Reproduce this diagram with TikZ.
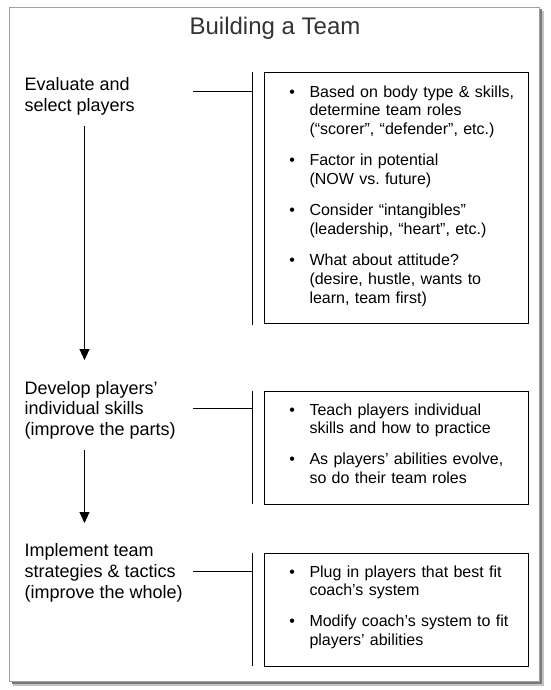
\documentclass[tikz,border=0pt]{standalone}
\usepackage{fontspec}
\setmainfont{Liberation Sans}
\usetikzlibrary{arrows.meta}
\definecolor{titlegray}{HTML}{333333}
\definecolor{framegray}{HTML}{A0A0A0}
\definecolor{shadowgray}{HTML}{7A7A7A}
\newcommand{\itembullet}{\leavevmode\llap{\textbullet\hspace{14.5pt}}}

\begin{document}
\begin{tikzpicture}[x=1pt, y=-1pt, font=\fontsize{16}{18.7}\selectfont]
		\tikzstyle{stage} = [anchor=base west, align=left, inner sep=0pt, font=\fontsize{18}{20.7}\selectfont]
		
		\tikzstyle{list} = [anchor=base west, text width=215pt, align=left, inner sep=0pt]
		
		\tikzstyle{box} = [rectangle, draw=black, line width=0.9pt, minimum width=264pt, inner sep=0pt]
		
		\tikzstyle{link} = [line width=0.9pt]
		\tikzstyle{arrow} = [line width=0.9pt, -{Triangle[width=10pt,length=11pt]}]
		
		\useasboundingbox (0,0) rectangle (550,690);
		
		% Frame and its shadow
		\fill[shadowgray!45] (13,11) rectangle (543.5,685.5);
		\fill[shadowgray] (11.5,9.5) rectangle (541.5,683.5);
		\draw[framegray, fill=white] (9,7) rectangle (539,681);
		
		% Title
		\node (title) [font=\fontsize{24}{28}\selectfont, text=titlegray, anchor=base, inner sep=0pt] at (275,34.5) {Building a Team};
		
		% Stages on the left (placed by their last line)
		\node (s1) [stage] at (24.5,111.4) {Evaluate and\\select players};
		\node (s2) [stage] at (24.5,435.4) {Develop players’\\individual skills\\(improve the parts)};
		\node (s3) [stage] at (24.5,598.1) {Implement team\\strategies \& tactics\\(improve the whole)};
		
		% Boxes on the right
		\node (b1) [box, minimum height=251pt] at (396.5,197.5) {};
		\node (b2) [box, minimum height=113pt] at (396.5,447.5) {};
		\node (b3) [box, minimum height=113pt] at (396.5,609.5) {};
		
		% Lists in the boxes
		\node (l1) [list] at (309.3,97.3) {\itembullet Based on body type \& skills,\\determine team roles\\(“scorer”, “defender”, etc.)\\[12.5pt]\itembullet Factor in potential\\(NOW vs.\ future)\\[12.5pt]\itembullet Consider “intangibles”\\(leadership, “heart”, etc.)\\[12.5pt]\itembullet What about attitude?\\(desire, hustle, wants to\\learn, team first)};
		\node (l2) [list] at (309.3,415) {\itembullet Teach players individual\\skills and how to practice\\[12.5pt]\itembullet As players’ abilities evolve,\\so do their team roles};
		\node (l3) [list] at (309.3,577) {\itembullet Plug in players that best fit\\coach’s system\\[12.5pt]\itembullet Modify coach’s system to fit\\players’ abilities};
		
		% Brackets
		\draw [link] ([xshift=-12pt]b1.north west) coordinate (k1) -- ([xshift=-12pt,yshift=-2pt]b1.south west);
		\draw [link] ([xshift=-12pt]b2.north west) coordinate (k2) -- ([xshift=-12pt]b2.south west);
		\draw [link] ([xshift=-12pt]b3.north west) coordinate (k3) -- ([xshift=-12pt]b3.south west);
		
		% Links to the brackets
		\coordinate (c1) at (193,91);
		\coordinate (c2) at (193,408.5);
		\coordinate (c3) at (193,571);
		\draw [link] (c1) -- (c1 -| k1);
		\draw [link] (c2) -- (c2 -| k2);
		\draw [link] (c3) -- (c3 -| k3);
		
		% Arrows
		\coordinate (a1) at (84.5,126);
		\coordinate (e1) at (84.5,360);
		\coordinate (a2) at (84.5,450);
		\coordinate (e2) at (84.5,523);
		\draw [arrow] (a1) -- (e1);
		\draw [arrow] (a2) -- (e2);
		
\end{tikzpicture}
\end{document}
